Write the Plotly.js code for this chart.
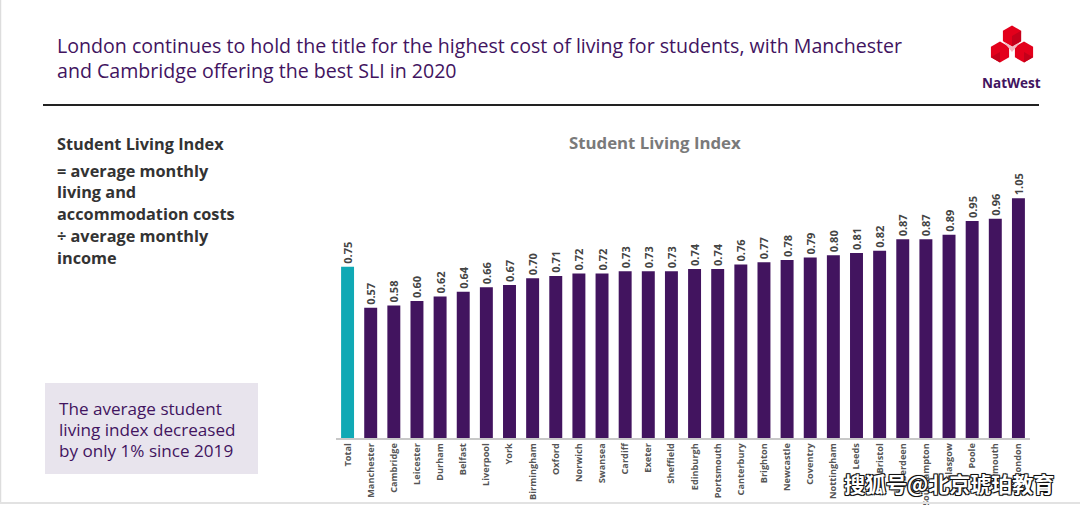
<!DOCTYPE html>
<html>
<head>
<meta charset="utf-8">
<script src="https://cdn.plot.ly/plotly-3.0.1.min.js"></script>
<style>
  html, body { margin: 0; padding: 0; background: #fff; }
  #chart { width: 1080px; height: 505px; }
</style>
</head>
<body>
<div id="chart"></div>
<script>
// Student Living Index 2020 by city
const cities = ['Total', 'Manchester', 'Cambridge', 'Leicester', 'Durham', 'Belfast', 'Liverpool', 'York',
  'Birmingham', 'Oxford', 'Norwich', 'Swansea', 'Cardiff', 'Exeter', 'Sheffield', 'Edinburgh',
  'Portsmouth', 'Canterbury', 'Brighton', 'Newcastle', 'Coventry', 'Nottingham', 'Leeds', 'Bristol',
  'Aberdeen', 'Southampton', 'Glasgow', 'Poole', 'Plymouth', 'London'];
const sli = [0.75, 0.57, 0.58, 0.60, 0.62, 0.64, 0.66, 0.67, 0.70, 0.71, 0.72, 0.72, 0.73, 0.73, 0.73,
  0.74, 0.74, 0.76, 0.77, 0.78, 0.79, 0.80, 0.81, 0.82, 0.87, 0.87, 0.89, 0.95, 0.96, 1.05];

const PURPLE = '#42145F';
const TEAL = '#10A9B5';
const barColors = cities.map(c => c === 'Total' ? TEAL : PURPLE);

// figure geometry (pixels) used to place decorations in paper coordinates
const W = 1080, H = 505;
const M = { l: 336, r: 50, t: 164, b: 67 };
const PW = W - M.l - M.r, PH = H - M.t - M.b;
const px = x => (x - M.l) / PW;
const py = y => (H - M.b - y) / PH;

const FONT = '"Open Sans", Lato, sans-serif';

const trace = {
  type: 'bar',
  x: cities,
  y: sli,
  marker: { color: barColors, line: { width: 0 } },
  text: sli.map(v => v.toFixed(2)),
  textposition: 'outside',
  textangle: -90,
  constraintext: 'none',
  cliponaxis: false,
  textfont: { family: FONT, size: 11, color: '#444', weight: 'bold' },
  hoverinfo: 'x+y'
};

function txt(x, y, text, opts) {
  return Object.assign({
    xref: 'paper', yref: 'paper', x: px(x), y: py(y), text: text,
    showarrow: false, xanchor: 'left', yanchor: 'middle', align: 'left',
    font: { family: FONT, size: 15, color: '#333' }
  }, opts || {});
}

// hexagonal block of the logo, in pixel coordinates
function hexPath(cx, cy, r) {
  const pts = [];
  for (let i = 0; i < 6; i++) {
    const a = Math.PI / 180 * (60 * i + 30);
    pts.push([cx + r * Math.cos(a), cy + r * Math.sin(a)]);
  }
  return 'M' + pts.map(p => px(p[0]).toFixed(5) + ',' + py(p[1]).toFixed(5)).join(' L') + ' Z';
}
function polyPath(points) {
  return 'M' + points.map(p => px(p[0]).toFixed(5) + ',' + py(p[1]).toFixed(5)).join(' L') + ' Z';
}

const R = 10.5;
const h = R / 2, w = R * Math.cos(Math.PI / 6);
const LEFT = { family: FONT, size: 16.3, color: '#333', weight: 'bold' };
const NOTE = { family: FONT, size: 17.1, color: PURPLE };
const HEAD = { family: FONT, size: 19.6, color: PURPLE };

const shapes = [
  // rule under the headline
  { type: 'line', xref: 'paper', yref: 'paper', x0: px(43), x1: px(1039), y0: py(105), y1: py(105),
    line: { color: '#222', width: 2 } },
  // note box
  { type: 'rect', xref: 'paper', yref: 'paper', x0: px(45), x1: px(258), y0: py(383), y1: py(474),
    fillcolor: '#E8E4ED', line: { width: 0 }, layer: 'below' },
  // frame edges
  { type: 'line', xref: 'paper', yref: 'paper', x0: px(0.5), x1: px(0.5), y0: py(0), y1: py(503),
    line: { color: '#ddd', width: 1.5 } },
  { type: 'line', xref: 'paper', yref: 'paper', x0: px(0), x1: px(1080), y0: py(503), y1: py(503),
    line: { color: '#e2e2e2', width: 2 } },
  // logo blocks
  { type: 'path', xref: 'paper', yref: 'paper', path: hexPath(1012, 36, R), fillcolor: '#E3001B', line: { width: 0 } },
  { type: 'path', xref: 'paper', yref: 'paper', path: hexPath(1000, 52, R), fillcolor: '#E3001B', line: { width: 0 } },
  { type: 'path', xref: 'paper', yref: 'paper', path: hexPath(1024, 52, R), fillcolor: '#E3001B', line: { width: 0 } },
  { type: 'path', xref: 'paper', yref: 'paper', path: polyPath([[1012 - w, 36 + h], [1012, 36 + R], [1012 + w, 36 + h], [1012, 52]]), fillcolor: '#F4B8C0', line: { width: 0 } },
  { type: 'path', xref: 'paper', yref: 'paper', path: polyPath([[1012, 36], [1012 + w, 36 - h], [1012 + w, 36 + h], [1012, 36 + R]]), fillcolor: '#C4001A', line: { width: 0 } },
  { type: 'path', xref: 'paper', yref: 'paper', path: polyPath([[1000, 52], [1000 - w, 52 + h], [1000, 52 + R]]), fillcolor: '#C4001A', line: { width: 0 } },
  { type: 'path', xref: 'paper', yref: 'paper', path: polyPath([[1024, 52], [1024 + w, 52 + h], [1024, 52 + R]]), fillcolor: '#C4001A', line: { width: 0 } }
];

const annotations = [
  txt(55, 46, 'London continues to hold the title for the highest cost of living for students, with Manchester', { font: HEAD }),
  txt(55, 70, 'and Cambridge offering the best SLI in 2020', { font: HEAD }),
  txt(1011, 83, 'NatWest', { xanchor: 'center', font: { family: FONT, size: 13.5, color: PURPLE, weight: 'bold' } }),
  txt(655, 142, 'Student Living Index', { xanchor: 'center', font: { family: FONT, size: 16.8, color: '#7a7a7a', weight: 'bold' } }),
  txt(55, 144, 'Student Living Index', { font: LEFT }),
  txt(55, 171, '= average monthly', { font: LEFT }),
  txt(55, 192, 'living and', { font: LEFT }),
  txt(55, 214, 'accommodation costs', { font: LEFT }),
  txt(55, 236, '÷ average monthly', { font: LEFT }),
  txt(55, 258, 'income', { font: LEFT }),
  txt(57, 408, 'The average student', { font: NOTE }),
  txt(57, 429, 'living index decreased', { font: NOTE }),
  txt(57, 451, 'by only 1% since 2019', { font: NOTE }),
  txt(949, 483, '搜狐号@北京琥珀教育', {
    xanchor: 'center',
    font: { family: '"Noto Sans CJK SC", sans-serif', size: 21, color: '#fff', weight: 'bold',
      shadow: '-1px -1px 0 #111, 1px -1px 0 #111, -1px 1px 0 #111, 1px 1px 0 #111, 0 0 2px #000' }
  })
];

const layout = {
  width: W, height: H,
  margin: M,
  paper_bgcolor: '#fff', plot_bgcolor: '#fff',
  showlegend: false,
  bargap: 0.44,
  xaxis: {
    type: 'category',
    tickangle: -90,
    tickfont: { family: FONT, size: 9.2, color: '#555', weight: 'bold' },
    showline: true, linecolor: '#c8c8c8', linewidth: 1.5,
    ticks: '', showgrid: false, zeroline: false, fixedrange: true
  },
  yaxis: {
    range: [0, 1.2],
    visible: false, showgrid: false, zeroline: false, fixedrange: true
  },
  shapes: shapes,
  annotations: annotations
};

Plotly.newPlot('chart', [trace], layout, { displayModeBar: false, staticPlot: true });
</script>
</body>
</html>
